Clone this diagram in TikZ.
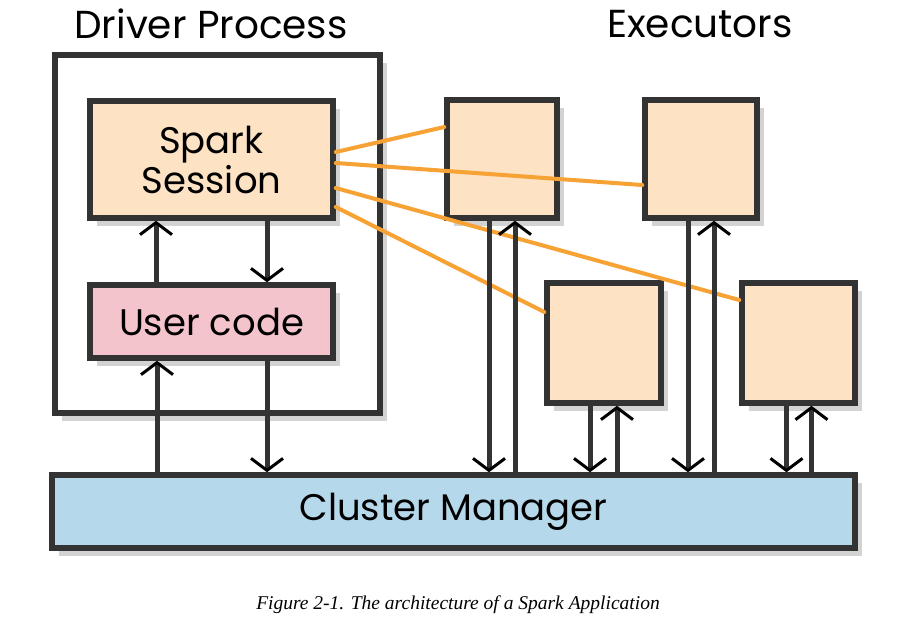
\documentclass[tikz,border=0pt]{standalone}
\usepackage{fontspec}
\setmainfont{Poppins}
\newfontfamily\capfont{Liberation Serif}
\usetikzlibrary{arrows.meta,shadows}
\definecolor{bord}{HTML}{333333}
\definecolor{peach}{HTML}{FDE2C4}
\definecolor{pinkc}{HTML}{F3C4CB}
\definecolor{bluec}{HTML}{B6D8EB}
\definecolor{orangec}{HTML}{F7A234}
\tikzset{
  sbox/.style={draw=bord, line width=5.5pt, rectangle, inner sep=0pt, align=center,
    font=\fontsize{37}{40}\selectfont,
    drop shadow={shadow xshift=7pt, shadow yshift=-8pt, fill=black!50, opacity=0.35}},
  conn/.style={draw=bord, line width=5pt, -{Straight Barb[length=12pt,width=32pt,line width=3pt,color=black]}},
  link/.style={draw=orangec, line width=4pt, line cap=round},
  ttl/.style={font=\fontsize{39}{46}\selectfont}
}
\begin{document}
\begin{tikzpicture}[x=1pt,y=-1pt]
\useasboundingbox (0,0) rectangle (913,625);
\node[ttl] (tdrv) at (211,24) {Driver Process};
\node[ttl] (texe) at (700,24) {Executors};
\node[sbox, fill=white, minimum width=325, minimum height=358] (drv) at (217.5,234) {};
\node[sbox, fill=peach, minimum width=243, minimum height=117] (ss) at (211.5,159.5) {Spark\\Session};
\node[sbox, fill=pinkc, minimum width=243, minimum height=73] (uc) at (211.5,321.5) {User code};
\node[sbox, fill=bluec, minimum width=803, minimum height=73] (cm) at (453.5,511.5) {Cluster Manager};
\node[sbox, fill=peach, minimum width=110, minimum height=118] (e1) at (502,159) {};
\node[sbox, fill=peach, minimum width=112, minimum height=118] (e2) at (701,159) {};
\node[sbox, fill=peach, minimum width=114, minimum height=120] (e3) at (604,343) {};
\node[sbox, fill=peach, minimum width=113, minimum height=120] (e4) at (798.5,343) {};
% orange links
\draw[link] ([yshift=7.5pt]ss.east) -- ([yshift=32pt]e1.west);
\draw[link] ([yshift=-3.5pt]ss.east) -- ([yshift=-26pt]e2.west);
\draw[link] ([yshift=-28.5pt]ss.east) -- ([yshift=43pt]e4.west);
\draw[link] ([yshift=-47.5pt]ss.east) -- ([yshift=31pt]e3.west);
% driver arrows
\draw[conn] ([xshift=-55.5pt]uc.north) -- ([xshift=-55.5pt]ss.south);
\draw[conn] ([xshift=55.5pt]ss.south) -- ([xshift=55.5pt]uc.north);
\draw[conn] ([xshift=-54.5pt]uc.south |- cm.north) -- ([xshift=-54.5pt]uc.south);
\draw[conn] ([xshift=55.5pt]uc.south) -- ([xshift=55.5pt]uc.south |- cm.north);
% executor arrows
\draw[conn] ([xshift=-13pt]e1.south) -- ([xshift=-13pt]e1.south |- cm.north);
\draw[conn] ([xshift=13pt]e1.south |- cm.north) -- ([xshift=13pt]e1.south);
\draw[conn] ([xshift=-13pt]e2.south) -- ([xshift=-13pt]e2.south |- cm.north);
\draw[conn] ([xshift=13pt]e2.south |- cm.north) -- ([xshift=13pt]e2.south);
\draw[conn] ([xshift=-14pt]e3.south) -- ([xshift=-14pt]e3.south |- cm.north);
\draw[conn] ([xshift=13pt]e3.south |- cm.north) -- ([xshift=13pt]e3.south);
\draw[conn] ([xshift=-12pt]e4.south) -- ([xshift=-12pt]e4.south |- cm.north);
\draw[conn] ([xshift=13pt]e4.south |- cm.north) -- ([xshift=13pt]e4.south);
\node[font=\capfont\itshape\fontsize{19.5}{23}\selectfont] (cap) at (458,605) {Figure 2-1. The architecture of a Spark Application};
\end{tikzpicture}
\end{document}
